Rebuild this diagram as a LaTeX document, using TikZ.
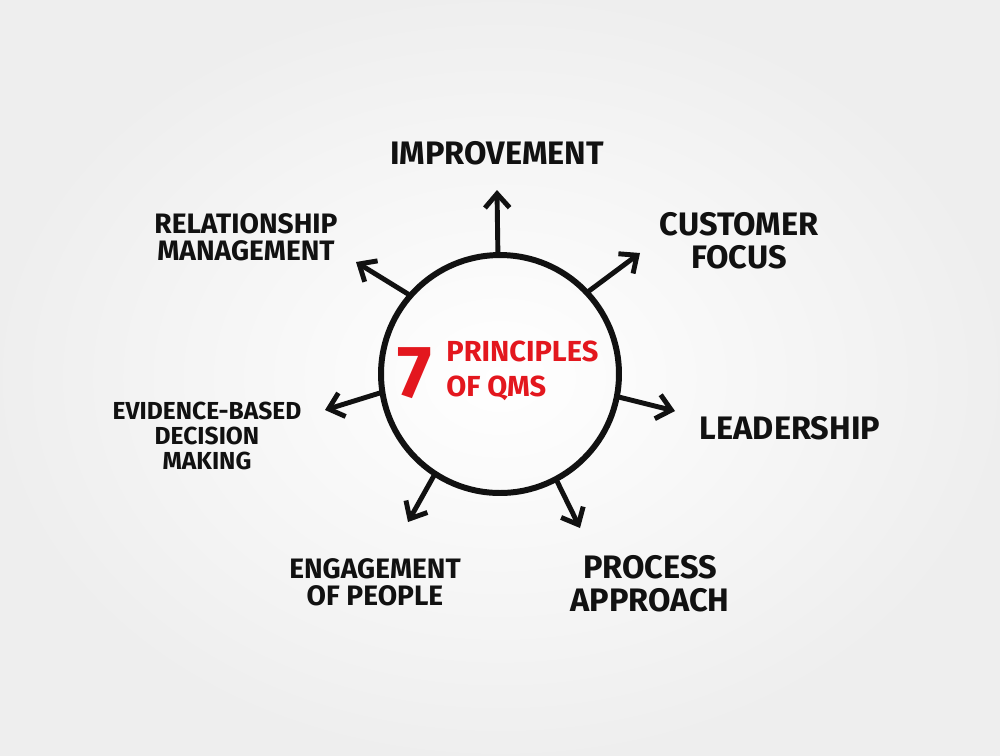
\documentclass[tikz,border=0pt]{standalone}
\usepackage{fontspec}
\setmainfont{Fira Sans}
\usetikzlibrary{arrows.meta}

\definecolor{ink}{HTML}{111111}
\definecolor{qmsred}{HTML}{E3171E}

\tikzset{
  bigtag/.style={text=ink,align=center,inner sep=0pt,
                 font=\bfseries\fontsize{18.5}{19}\selectfont},
  smalltag/.style={text=ink,align=center,inner sep=0pt,
                 font=\bfseries\fontsize{16}{15.5}\selectfont},
  spoke/.style={draw=ink,line width=2.8pt,line cap=round,
                -{Straight Barb[length=8pt,width=14pt,line width=2.8pt]}}
}

\begin{document}
\begin{tikzpicture}[x=0.02cm,y=-0.02cm]
    \shade[inner color=white,outer color=gray!13] (0,0) rectangle (1000,755);
    \useasboundingbox (0,0) rectangle (1000,755);

    % the ring in the middle
    \node[circle,draw=ink,line width=3.4pt,inner sep=0pt,minimum size=4.76cm] (Core) at (500,374) {};
    \node[text=qmsred,inner sep=0pt,font=\bfseries\fontsize{42}{42}\selectfont] (Seven) at (415,373) {7};
    \node[text=qmsred,inner sep=0pt,anchor=west,align=left,
          font=\bfseries\fontsize{16.5}{20}\selectfont] (Title) at (446,371) {PRINCIPLES\\OF QMS};

    % the seven principles
    \node[bigtag]   (Impr) at (497,153) {IMPROVEMENT};
    \node[bigtag]   (Cust) at (739,241) {CUSTOMER\\FOCUS};
    \node[bigtag]   (Lead) at (790,428) {LEADERSHIP};
    \node[bigtag]   (Proc) at (650,584) {PROCESS\\APPROACH};
    \node[smalltag] (Enga) at (375,582) {ENGAGEMENT\\OF PEOPLE};
    \node[smalltag,font=\bfseries\fontsize{14}{14}\selectfont]
                    (Evid) at (207,436) {EVIDENCE-BASED\\DECISION\\MAKING};
    \node[smalltag] (Rela) at (246,237) {RELATIONSHIP\\MANAGEMENT};

    \foreach \ang/\x/\y in {91/497/190, 43/640/253, -11/675/411, -62/580/528,
                            -123/408/522, 189/325/410, 139/356/262}
             {
               \coordinate (Tip) at (\x,\y);
               \draw[spoke] (Core.\ang) -- (Tip);
             }
\end{tikzpicture}
\end{document}
